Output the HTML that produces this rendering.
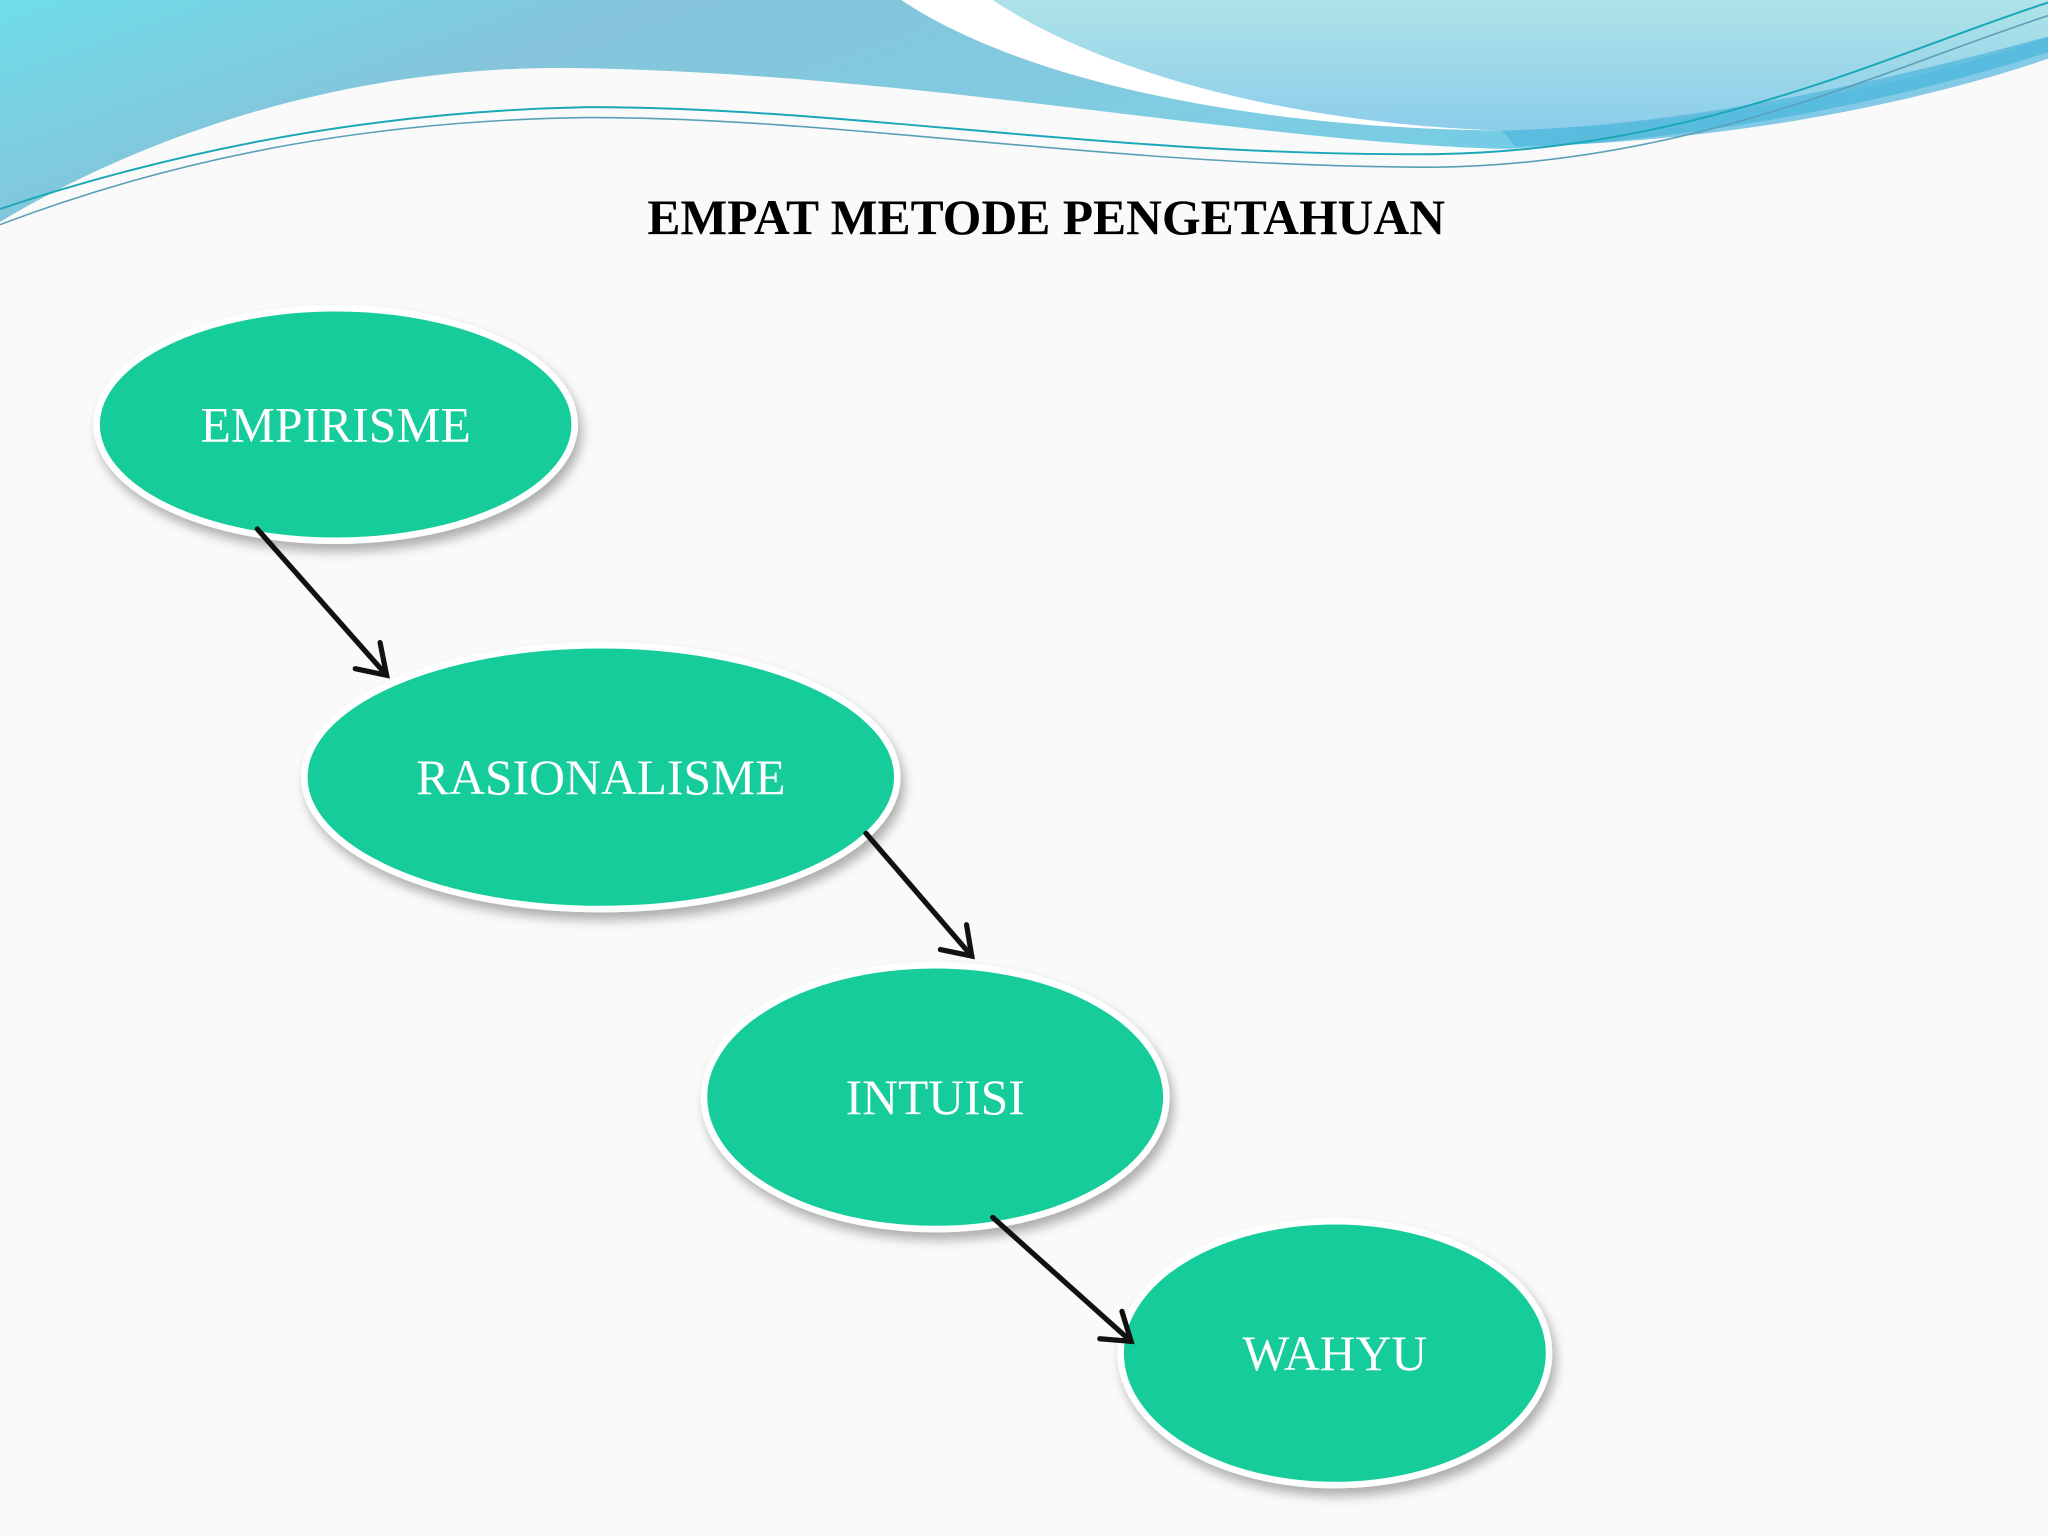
<!DOCTYPE html>
<html><head><meta charset="utf-8"><style>
html,body{margin:0;padding:0;background:#fafafa;}
svg{display:block}
</style></head><body>
<svg width="2048" height="1536" viewBox="0 0 1568 1176" preserveAspectRatio="none" xmlns="http://www.w3.org/2000/svg">
<defs>
<linearGradient id="g1" x1="0" y1="0" x2="1" y2="0.3">
<stop offset="0" stop-color="#6fdde9"/><stop offset="0.3" stop-color="#85c4da"/><stop offset="0.7" stop-color="#7fcde2"/><stop offset="1" stop-color="#6ccbe6"/>
</linearGradient>
<linearGradient id="g2" x1="0" y1="0" x2="0" y2="1">
<stop offset="0" stop-color="#aee3e8"/><stop offset="1" stop-color="#8ccdea"/>
</linearGradient>
<filter id="sh" x="-20%" y="-20%" width="140%" height="150%">
<feDropShadow dx="3" dy="6" stdDeviation="4" flood-color="#000" flood-opacity="0.3"/>
</filter>
</defs>
<rect width="1568" height="1176" fill="#fafafa"/>
<path d="M0,0 H1568 V40 C1450,78 1300,108 1150,114 C950,108 700,55 430,52 C250,52 100,110 0,170 Z" fill="url(#g1)"/>
<path d="M760,0 H1568 V28 C1450,70 1300,96 1150,100 C1000,95 850,60 760,0 Z" fill="url(#g2)"/>
<path d="M690,0 H760 C850,60 1000,95 1150,100 C950,98 780,60 690,0 Z" fill="#fff"/>
<path d="M1150,100 C1300,96 1450,60 1568,28 V45 C1450,85 1300,110 1160,112 Z" fill="#4fb5dc" opacity="0.7"/>
<path d="M0,160 C150,110 300,85 450,82 C650,82 850,120 1100,118 C1300,115 1450,40 1568,2" fill="none" stroke="#1aa8b8" stroke-width="1.5"/>
<path d="M0,172 C150,115 300,92 450,90 C650,90 850,128 1100,128 C1300,125 1450,50 1568,12" fill="none" stroke="#5a9fb8" stroke-width="1.2"/>
<text x="801" y="179" text-anchor="middle" font-family="Liberation Serif, serif" font-weight="bold" font-size="38" fill="#000">EMPAT METODE PENGETAHUAN</text>
<g filter="url(#sh)" fill="#14cc9b" stroke="#fff" stroke-width="5">
<ellipse cx="257" cy="325" rx="183" ry="89"/>
<ellipse cx="460" cy="595" rx="227" ry="101"/>
<ellipse cx="716" cy="840" rx="177" ry="101"/>
<ellipse cx="1022" cy="1036" rx="164" ry="101"/>
</g>
<g font-family="Liberation Serif, serif" font-size="38" fill="#fff" text-anchor="middle">
<text x="257" y="338">EMPIRISME</text>
<text x="460" y="608">RASIONALISME</text>
<text x="716" y="853">INTUISI</text>
<text x="1022" y="1049">WAHYU</text>
</g>
<g stroke="#111" stroke-width="4" fill="none" stroke-linecap="round">
<line x1="197" y1="405" x2="296" y2="517"/>
<polyline points="272,512 296,517 291,492"/>
<line x1="663" y1="638" x2="744" y2="732"/>
<polyline points="720,727 744,732 740,708"/>
<line x1="760" y1="932" x2="866" y2="1027"/>
<polyline points="842,1025 866,1027 859,1004"/>
</g>
</svg>
</body></html>
